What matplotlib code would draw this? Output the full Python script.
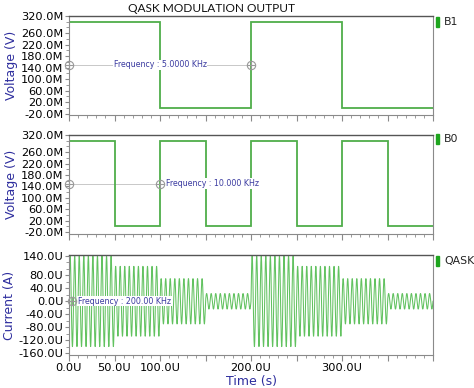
import numpy as np
import matplotlib
matplotlib.use("Agg")
import matplotlib.pyplot as plt
from matplotlib.ticker import MultipleLocator

# ---------------- data ----------------
segment_edges_us = [0, 50, 100, 150, 200, 250, 300, 350, 400]
b1_levels_mV = [300, 300, 0, 0, 300, 300, 0, 0]
b0_levels_mV = [300, 0, 300, 0, 300, 0, 300, 0]
qask_amplitudes_uA = [140, 108, 70, 24, 140, 108, 70, 24]
carrier_freq_kHz = 200.0

voltage_ticks = [320, 260, 220, 180, 140, 100, 60, 20, -20]
voltage_ticklabels = ["320.0M", "260.0M", "220.0M", "180.0M", "140.0M",
                      "100.0M", "60.0M", "20.0M", "-20.0M"]
current_ticks = [140, 80, 40, 0, -40, -80, -120, -160]
current_ticklabels = ["140.0U", "80.0U", "40.0U", "0.0U", "-40.0U",
                      "-80.0U", "-120.0U", "-160.0U"]
time_ticks = [0, 50, 100, 200, 300]
time_ticklabels = ["0.0U", "50.0U", "100.0U", "200.0U", "300.0U"]

freq_labels = ["Frequency : 5.0000 KHz", "Frequency : 10.000 KHz",
               "Frequency : 200.00 KHz"]
trace_names = ["B1", "B0", "QASK"]

# ---------------- style ----------------
W, H = 474, 388
fig = plt.figure(figsize=(W / 100, H / 100), dpi=100)
fig.patch.set_facecolor("white")

sq_color = "#4fae4a"
wave_color = "#62c260"
axis_gray = "#8a8a8a"
label_blue = "#2e2e9e"
freq_blue = "#3a3aa0"
tick_fs = 8.2
freq_fs = 5.7


def px_axes(left, top, right, bottom):
    return fig.add_axes([left / W, 1 - bottom / H, (right - left) / W, (bottom - top) / H])


def style_axes(ax, show_xlabels):
    for side in ["left", "bottom", "right"]:
        ax.spines[side].set_color(axis_gray)
        ax.spines[side].set_linewidth(0.8)
    ax.spines["top"].set_color("#555555")
    ax.spines["top"].set_linewidth(1.0)
    ax.set_xlim(0, 400)
    ax.xaxis.set_major_locator(MultipleLocator(50))
    ax.xaxis.set_minor_locator(MultipleLocator(10))
    ax.tick_params(axis="x", which="major", length=4, color=axis_gray, width=0.8,
                   labelsize=tick_fs, pad=2)
    ax.tick_params(axis="x", which="minor", length=2, color=axis_gray, width=0.6)
    ax.tick_params(axis="y", which="major", length=3, color=axis_gray, width=0.8,
                   labelsize=tick_fs, pad=1)
    ax.tick_params(axis="y", which="minor", length=2, color=axis_gray, width=0.6)
    if show_xlabels:
        ax.set_xticks(segment_edges_us)
        ax.set_xticklabels([time_ticklabels[time_ticks.index(t)] if t in time_ticks else ""
                            for t in segment_edges_us])
    else:
        ax.set_xticklabels([])


def square(ax, levels):
    xs, ys = [], []
    for i, lv in enumerate(levels):
        xs += [segment_edges_us[i], segment_edges_us[i + 1]]
        ys += [lv, lv]
    ax.plot(xs, ys, color=sq_color, lw=1.3, solid_joinstyle="miter")


def marker(ax, x, y):
    ax.plot([x], [y], marker="o", ms=6, mfc="none", mec="#999999", mew=0.8, zorder=5,
            clip_on=False)
    ax.plot([x], [y], marker="+", ms=6, mec="#999999", mew=0.8, zorder=5, clip_on=False)


def legend_tag(name, y_px):
    fig.patches.append(plt.Rectangle((436 / W, 1 - (y_px + 10) / H), 3 / W, 10 / H,
                                     transform=fig.transFigure, color="#1ea51e"))
    fig.text(444 / W, 1 - (y_px + 5) / H, name, fontsize=7.8, va="center", ha="left",
             color="#222222")


# ---------------- panel 1 : B1 ----------------
ax1 = px_axes(69, 16, 433, 115)
square(ax1, b1_levels_mV)
ax1.set_ylim(-25, 320)
ax1.set_yticks(voltage_ticks)
ax1.set_yticklabels(voltage_ticklabels)
ax1.yaxis.set_minor_locator(MultipleLocator(20))
style_axes(ax1, False)
ax1.plot([0, 200], [150, 150], color="#c8c8c8", lw=0.7, zorder=1)
marker(ax1, 0, 150)
marker(ax1, 200, 150)
ax1.text(100, 150, freq_labels[0], fontsize=freq_fs, color=freq_blue, ha="center",
         va="center", bbox=dict(facecolor="white", edgecolor="none", pad=0.5), zorder=3)
ax1.set_ylabel("Voltage (V)", color=label_blue, fontsize=9, labelpad=2)
legend_tag(trace_names[0], 17)

# ---------------- panel 2 : B0 ----------------
ax2 = px_axes(69, 135, 433, 234)
square(ax2, b0_levels_mV)
ax2.set_ylim(-27, 320)
ax2.set_yticks(voltage_ticks)
ax2.set_yticklabels(voltage_ticklabels)
ax2.yaxis.set_minor_locator(MultipleLocator(20))
style_axes(ax2, False)
ax2.plot([0, 100], [150, 150], color="#c8c8c8", lw=0.7, zorder=1)
marker(ax2, 0, 150)
marker(ax2, 100, 150)
ax2.text(107, 150, freq_labels[1], fontsize=freq_fs, color=freq_blue, ha="left",
         va="center", bbox=dict(facecolor="white", edgecolor="none", pad=0.5), zorder=3)
ax2.set_ylabel("Voltage (V)", color=label_blue, fontsize=9, labelpad=2)
legend_tag(trace_names[1], 134)

# ---------------- panel 3 : QASK ----------------
ax3 = px_axes(69, 255, 433, 355)
t = np.linspace(0, 400, 16001)
seg = np.clip(np.searchsorted(segment_edges_us, t, side="right") - 1, 0,
              len(qask_amplitudes_uA) - 1)
amp = np.array(qask_amplitudes_uA)[seg]
period_us = 1000.0 / carrier_freq_kHz
i_uA = amp * np.sin(2 * np.pi * t / period_us)
ax3.plot(t, i_uA, color=wave_color, lw=0.75)
ax3.set_ylim(-166, 143)
ax3.set_yticks(current_ticks)
ax3.set_yticklabels(current_ticklabels)
ax3.yaxis.set_minor_locator(MultipleLocator(20))
style_axes(ax3, True)
marker(ax3, 3, 0)
ax3.text(10, 0, freq_labels[2], fontsize=freq_fs, color=freq_blue, ha="left", va="center",
         bbox=dict(facecolor="white", edgecolor="none", pad=0.5), zorder=3)
ax3.set_ylabel("Current (A)", color=label_blue, fontsize=9, labelpad=2)
ax3.set_xlabel("Time (s)", color=label_blue, fontsize=9, labelpad=1)
legend_tag(trace_names[2], 256)

fig.text(212 / W, 1 - 8 / H, "QASK MODULATION OUTPUT", fontsize=8.6, ha="center",
         va="center", family="Lato", color="#111111")

fig.savefig("out.png", dpi=100, facecolor="white")
